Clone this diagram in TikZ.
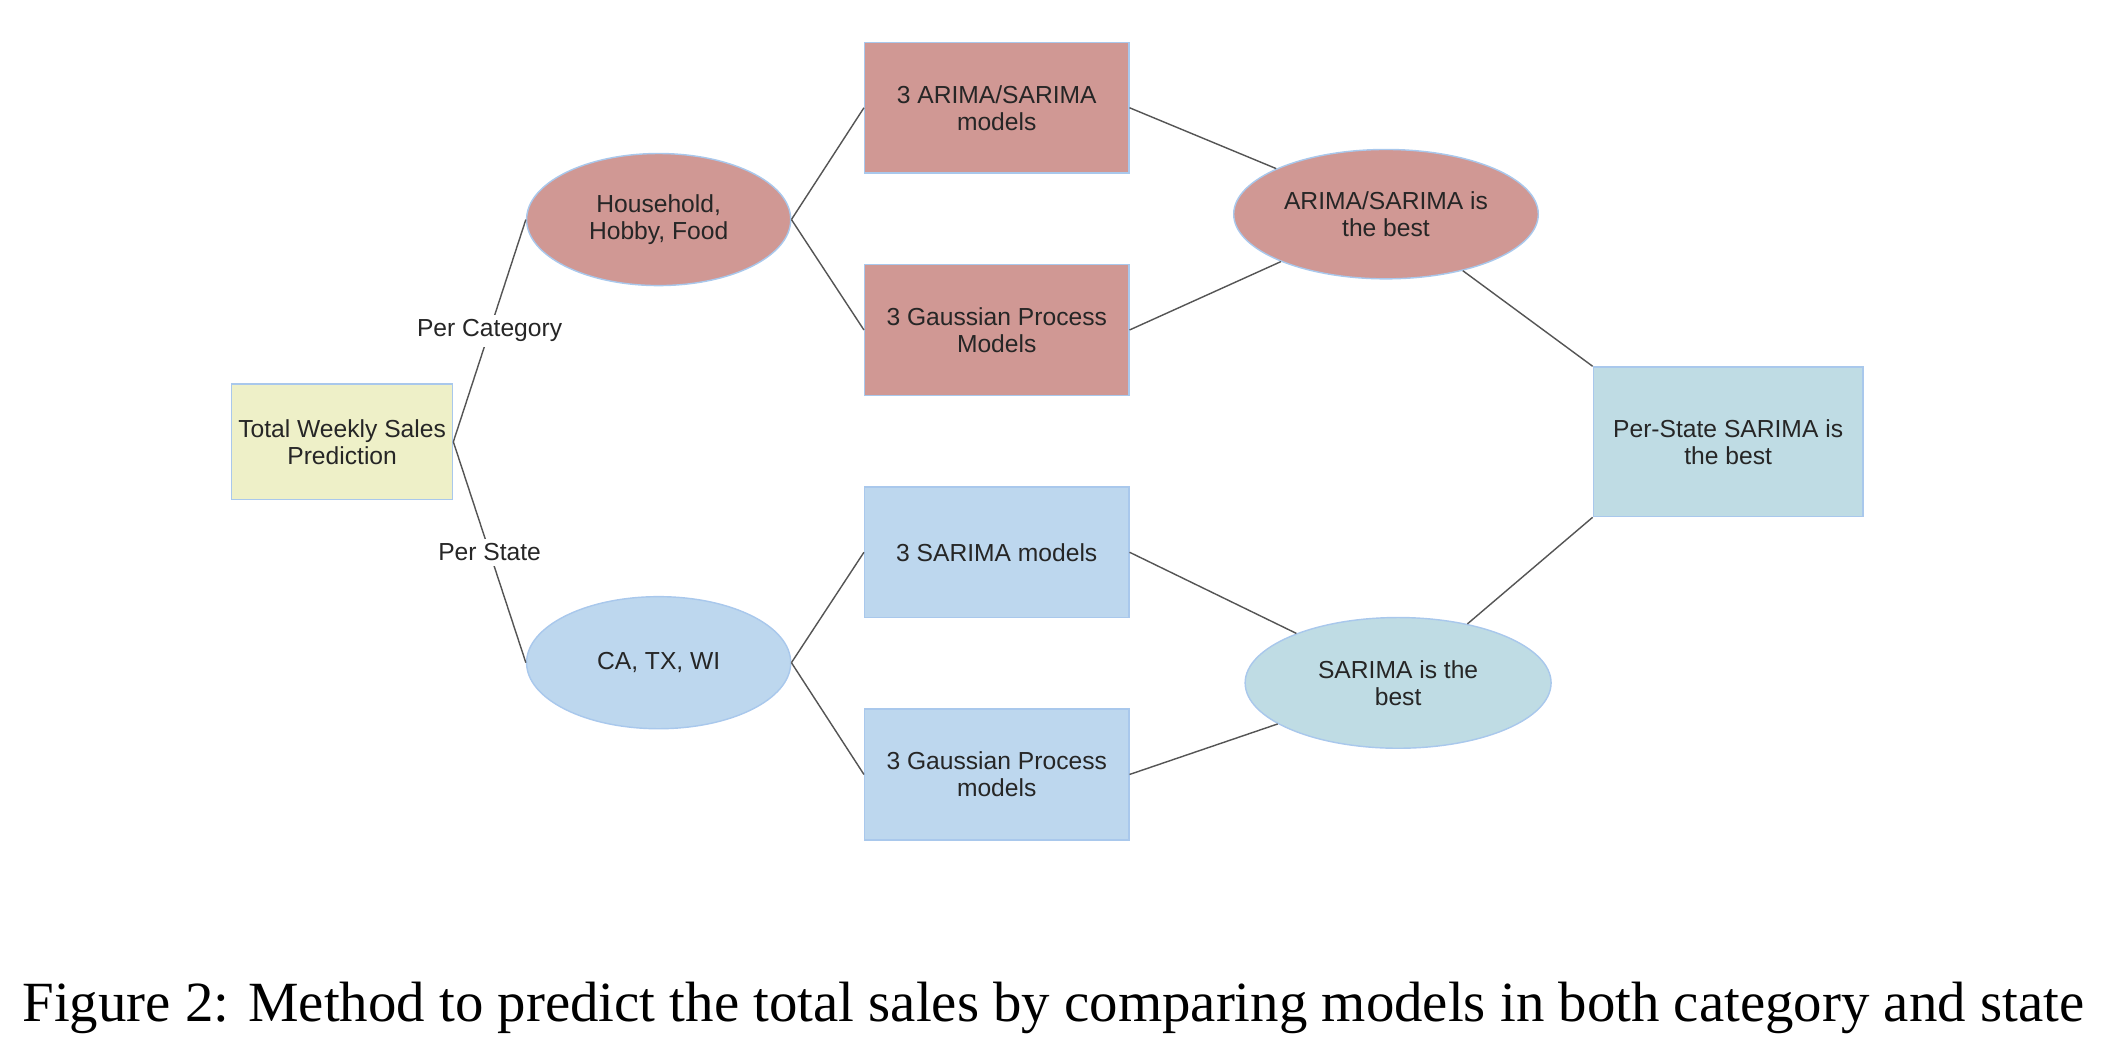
\documentclass[tikz,border=0pt]{standalone}
\usepackage{fontspec}
\setmainfont{Liberation Serif}
\newfontfamily\boxfont{Liberation Sans}
\usetikzlibrary{shapes.geometric}
\definecolor{redfill}{HTML}{D09894}
\definecolor{bluefill}{HTML}{BDD7EE}
\definecolor{tealfill}{HTML}{BFDCE4}
\definecolor{yellowfill}{HTML}{EEF0C8}
\definecolor{edgeblue}{HTML}{A9C8EC}
\definecolor{linegray}{HTML}{555555}
\begin{document}
\begin{tikzpicture}[x=0.01cm,y=-0.01cm,
  every node/.style={font=\boxfont\fontsize{5.2}{5.7}\selectfont,text=black!85,align=center},
  box/.style={shape=rectangle,draw=edgeblue,line width=0.3pt,minimum width=1.96cm,minimum height=0.97cm,inner sep=0pt},
  ell/.style={shape=ellipse,draw=edgeblue,line width=0.3pt,minimum width=1.96cm,minimum height=0.98cm,inner sep=0pt},
  link/.style={draw=linegray,line width=0.3pt},
  lab/.style={fill=white,inner sep=1pt}]
\useasboundingbox (0,0) rectangle (1568,788);

\node[box,fill=yellowfill,minimum width=1.64cm,minimum height=0.86cm] (T) at (254,328) {Total Weekly Sales\\Prediction};

\node[ell,fill=redfill] (H) at (489,163) {Household,\\Hobby, Food};
\node[ell,fill=bluefill] (C) at (489,492) {CA, TX, WI};

\node[box,fill=redfill] (A1) at (740,80) {3 ARIMA/SARIMA\\models};
\node[box,fill=redfill] (G1) at (740,245) {3 Gaussian Process\\Models};
\node[box,fill=bluefill] (S1) at (740,410) {3 SARIMA models};
\node[box,fill=bluefill] (G2) at (740,575) {3 Gaussian Process\\models};

\node[ell,fill=redfill,minimum width=2.26cm,minimum height=0.96cm] (AB) at (1029,159) {ARIMA/SARIMA is\\the best};
\node[ell,fill=tealfill,minimum width=2.27cm,minimum height=0.97cm] (SB) at (1038,507) {SARIMA is the\\best};

\node[box,fill=tealfill,minimum width=2cm,minimum height=1.11cm] (P) at (1283,328) {Per-State SARIMA is\\the best};

\draw[link] (T.east) -- (H.west) node[lab,pos=0.5] (lc) {Per Category};
\draw[link] (T.east) -- (C.west) node[lab,pos=0.5] (ls) {Per State};

\draw[link] (H.east) -- (A1.west);
\draw[link] (H.east) -- (G1.west);
\draw[link] (C.east) -- (S1.west);
\draw[link] (C.east) -- (G2.west);

\draw[link] (A1.east) -- (AB);
\draw[link] (G1.east) -- (AB);
\draw[link] (S1.east) -- (SB);
\draw[link] (G2.east) -- (SB);

\draw[link] (AB) -- (P.north west);
\draw[link] (SB) -- (P.south west);

\node[font=\fontsize{12}{14}\selectfont,text=black] (cap) at (782,748) {Figure 2: Method to predict the total sales by comparing models in both category and state};
\end{tikzpicture}
\end{document}
